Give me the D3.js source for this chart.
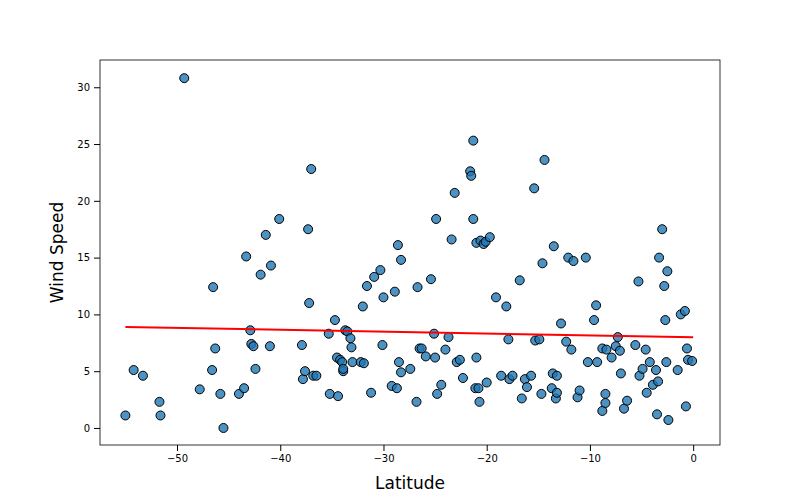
<!DOCTYPE html>
<html>
<head>
<meta charset="utf-8">
<script src="https://d3js.org/d3.v7.min.js"></script>
<style>
  body { margin: 0; background: #fff; }
  text { font-family: "DejaVu Sans", sans-serif; }
</style>
</head>
<body>
<script>
// latitude / wind speed pairs
var latitude = [-55,-54.2,-53.3,-51.7,-51.6,-49.3,-47.8,-46.6,-46.5,-46.3,-45.8,-45.5,-44,-43.5,-43.3,-42.9,-42.8,-42.6,-42.4,-41.9,-41.4,-40.9,-41,-40.1,-37.9,-37.8,-37.6,-37.3,-37.2,-37,-36.8,-36.5,-35.3,-35.2,-34.7,-34.5,-34.4,-34.2,-34,-33.9,-33.9,-33.7,-33.5,-33.2,-33.1,-33,-32.2,-32,-31.9,-31.6,-31.2,-30.9,-30.3,-30.1,-30,-29.2,-28.9,-28.7,-28.6,-28.5,-28.3,-28.3,-27.4,-26.8,-26.7,-26.5,-26.3,-25.9,-25.4,-25.1,-25,-24.9,-24.8,-24.4,-24,-23.7,-23.4,-23.1,-22.9,-22.6,-22.3,-21.6,-21.5,-21.3,-21.3,-21.1,-21,-21,-20.8,-20.7,-20.6,-20.3,-20.1,-20,-19.7,-19.1,-18.6,-18.1,-17.9,-17.8,-17.5,-16.8,-16.6,-16.3,-16.1,-15.7,-15.4,-15.3,-14.9,-14.7,-14.6,-14.4,-13.7,-13.6,-13.5,-13.3,-13.2,-13.2,-12.8,-12.3,-12.1,-11.8,-11.6,-11.2,-11,-10.4,-10.2,-9.6,-9.4,-9.3,-8.8,-8.8,-8.5,-8.5,-8.4,-7.9,-7.5,-7.3,-7.1,-7,-6.7,-6.4,-5.6,-5.3,-5.2,-4.9,-4.6,-4.5,-4.2,-3.9,-3.6,-3.5,-3.4,-3.3,-3,-2.8,-2.7,-2.6,-2.5,-2.4,-1.5,-1.2,-0.8,-0.7,-0.6,-0.5,-0.1];
var windSpeed = [1.1,5.1,4.6,2.3,1.1,30.8,3.4,5.1,12.4,7,3,0,3,3.5,15.1,8.6,7.4,7.2,5.2,13.5,17,14.3,7.2,18.4,7.3,4.3,5,17.5,11,22.8,4.6,4.6,8.3,3,9.5,6.2,2.8,6,5.8,5,5.2,8.6,8.5,7.9,7.1,5.8,5.8,10.7,5.7,12.5,3.1,13.3,13.9,7.3,11.5,3.7,12,3.5,16.1,5.8,14.8,4.9,5.2,2.3,12.4,7,7,6.3,13.1,8.3,6.2,18.4,3,3.8,6.9,8,16.6,20.7,5.8,6,4.4,22.6,22.2,25.3,18.4,3.5,16.3,6.2,3.5,2.3,16.5,16.2,16.4,4,16.8,11.5,4.6,10.7,7.8,4.3,4.6,13,2.6,4.3,3.6,4.6,21.1,7.7,7.8,3,14.5,23.6,3.5,4.8,16,2.6,4.6,3.1,9.2,7.6,15,6.9,14.7,2.7,3.3,15,5.8,9.5,10.8,5.8,1.5,7,3,2.2,6.9,6.2,7.2,8,6.8,4.8,1.7,2.4,7.3,12.9,4.6,5.2,6.9,3.1,5.8,3.8,5.1,1.2,4.1,15,17.5,12.5,9.5,5.8,13.8,0.7,5.1,10,10.3,1.9,7,6,5.9];
var xTicks = [-50, -40, -30, -20, -10, 0];
var yTicks = [0, 5, 10, 15, 20, 25, 30];
var fitX = [-55, 0];
var fitY = [8.9, 7.98];

var width = 800, height = 500;
var margin = {top: 60, right: 80, bottom: 55, left: 100};

var svg = d3.select("body").append("svg")
    .attr("width", width).attr("height", height);

var x = d3.scaleLinear().domain([-57.46, 2.6]).range([margin.left, width - margin.right]);
var y = d3.scaleLinear().domain([-1.5, 32.4]).range([height - margin.bottom, margin.top]);

svg.append("g")
    .attr("transform", "translate(0," + (height - margin.bottom) + ")")
    .call(d3.axisBottom(x).tickValues(xTicks).tickSizeOuter(0).tickPadding(4))
    .call(g => g.selectAll("text").style("font-size", "10px").attr("fill", "#000"));

svg.append("g")
    .attr("transform", "translate(" + margin.left + ",0)")
    .call(d3.axisLeft(y).tickValues(yTicks).tickSizeOuter(0).tickPadding(4))
    .call(g => g.selectAll("text").style("font-size", "10px").attr("fill", "#000"));

svg.selectAll(".domain").remove();
svg.append("rect")
    .attr("x", margin.left).attr("y", margin.top)
    .attr("width", width - margin.left - margin.right)
    .attr("height", height - margin.top - margin.bottom)
    .attr("fill", "none").attr("stroke", "#000").attr("stroke-width", 0.8);

svg.append("g").selectAll("circle")
    .data(latitude)
    .join("circle")
    .attr("cx", d => x(d))
    .attr("cy", (d, i) => y(windSpeed[i]))
    .attr("r", 4.5)
    .attr("fill", "#1f77b4").attr("fill-opacity", 0.8)
    .attr("stroke", "#000").attr("stroke-width", 1);

svg.append("line")
    .attr("x1", x(fitX[0])).attr("y1", y(fitY[0]))
    .attr("x2", x(fitX[1])).attr("y2", y(fitY[1]))
    .attr("stroke", "red").attr("stroke-width", 2);

svg.append("text")
    .attr("x", (margin.left + width - margin.right) / 2).attr("y", 489)
    .attr("text-anchor", "middle").style("font-size", "17px")
    .text("Latitude");

svg.append("text")
    .attr("transform", "translate(63," + ((margin.top + height - margin.bottom) / 2) + ") rotate(-90)")
    .attr("text-anchor", "middle").style("font-size", "17px")
    .text("Wind Speed");
</script>
</body>
</html>
